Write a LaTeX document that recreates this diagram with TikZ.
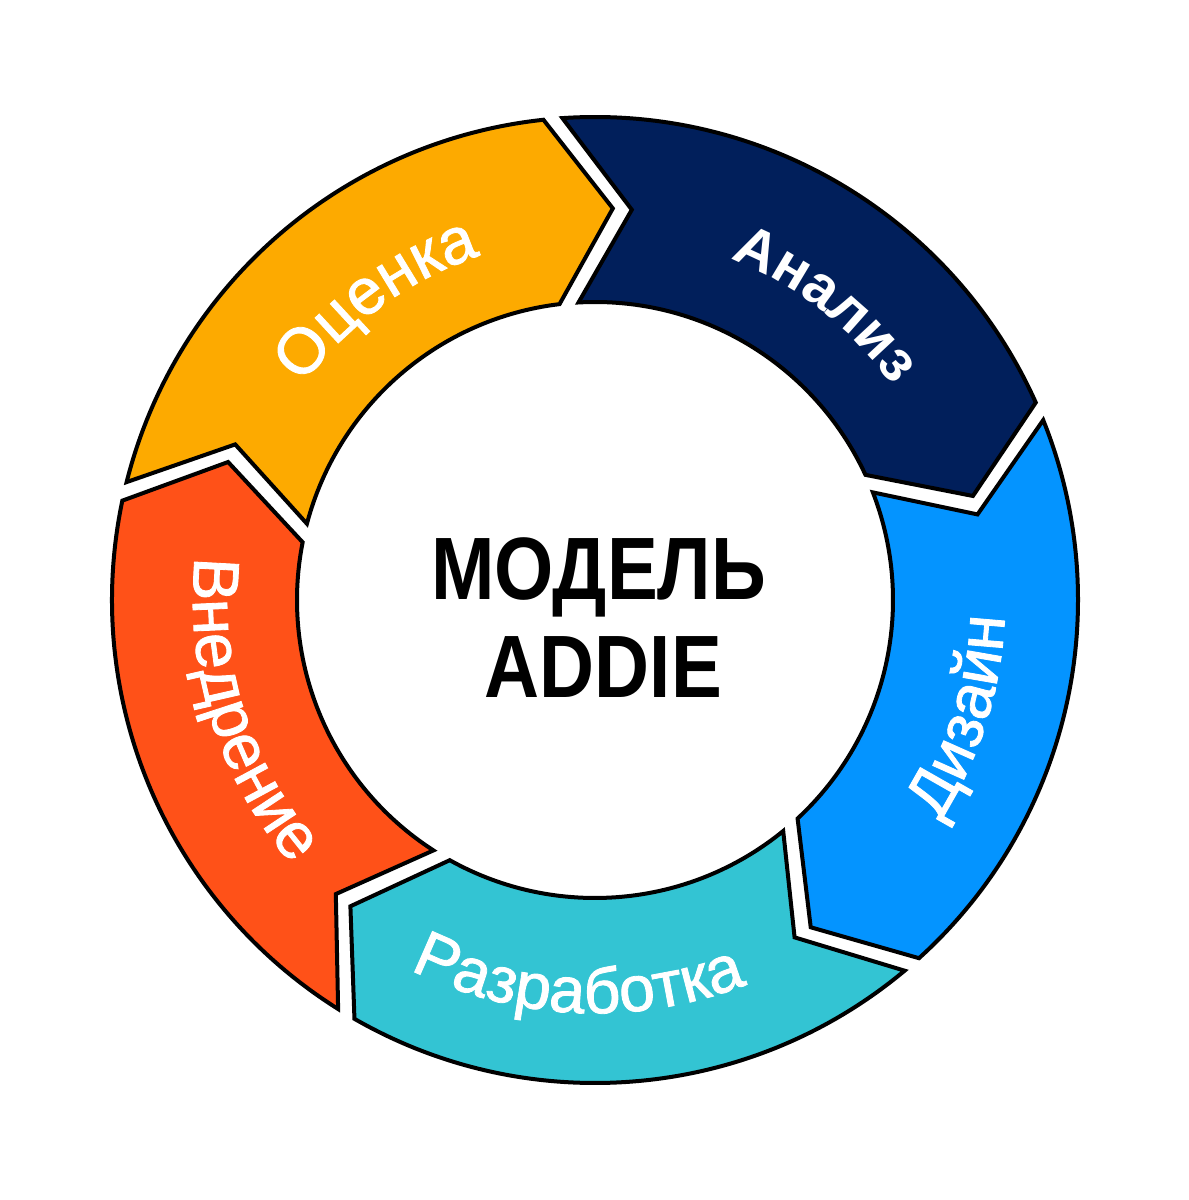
\documentclass[tikz,border=0pt]{standalone}
\usepackage{fontspec}
\setmainfont{Liberation Sans}
\newfontfamily\labelfamily[FakeBold=1.3]{Liberation Sans}
\newfontfamily\titlefamily[FakeStretch=0.86]{Liberation Sans}
\usetikzlibrary{decorations.text}

\definecolor{evalorange}{HTML}{FDAA00}
\definecolor{analysisnavy}{HTML}{011F5B}
\definecolor{designblue}{HTML}{0494FF}
\definecolor{devcyan}{HTML}{33C4D3}
\definecolor{implred}{HTML}{FF5118}

\newcommand{\labelfont}{\fontsize{46}{46}\selectfont\labelfamily}
\newcommand{\labelboldfont}{\fontsize{41}{41}\selectfont\bfseries}
\newcommand{\titlefont}{\fontsize{63}{63}\selectfont\titlefamily\bfseries}

% #1 = boundary angle where the part starts, #2 = colour
\newcommand{\ringpart}[2]{
  \filldraw[fill = #2] ({#1 - 1.13}:12.075)
    arc[start angle = {#1 - 1.13}, end angle = {#1 - 70.87}, radius = 12.075]
    -- ({#1 - 81 + 1.39}:9.8) -- ({#1 - 72 + 1.83}:7.45)
    arc[start angle = {#1 - 70.17}, end angle = {#1 - 1.83}, radius = 7.45]
    -- ({#1 - 9 - 1.39}:9.8) -- cycle;
}
\newcommand{\ringlabel}[5]{
  \path[decorate, decoration = {text along path, text align = center,
    text color = white, text = {|#4|#5}}]
    (#1:#3) arc[start angle = #1, end angle = #2, radius = #3];
}

\begin{document}
\begin{tikzpicture}[line width = 0.1cm]
  \useasboundingbox (-14.875, -15) rectangle (14.825, 15);

  \ringpart{95}{analysisnavy}
  \ringpart{23}{designblue}
  \ringpart{-49}{devcyan}
  \ringpart{-121}{implred}
  \ringpart{167}{evalorange}

  \ringlabel{160}{92}{9.075}{\labelfont}{Оценка}
  \ringlabel{86}{18}{9.18}{\labelboldfont}{Анализ}
  \ringlabel{-52}{17}{10.25}{\labelfont}{Дизайн}
  \ringlabel{-130}{-55}{10.33}{\labelfont}{Разработка}
  \ringlabel{161}{234}{10.05}{\labelfont}{Внедрение}

  \node[anchor = base, font = \titlefont] (title) at (0.09, 0.02) {МОДЕЛЬ};
  \node[anchor = base, font = \titlefont] (titleb) at (0.21, -2.425) {ADDIE};
\end{tikzpicture}
\end{document}
